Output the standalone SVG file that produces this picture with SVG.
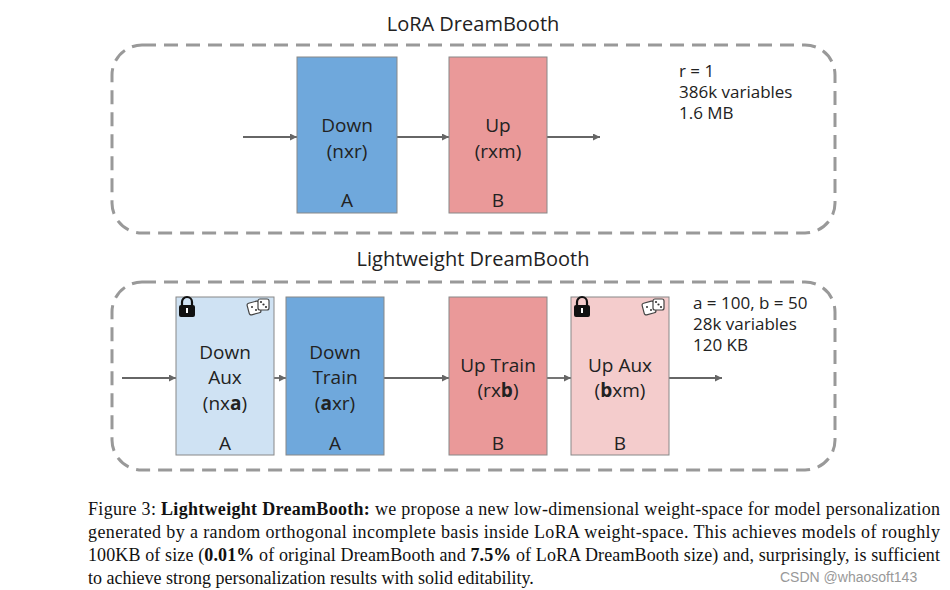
<svg xmlns="http://www.w3.org/2000/svg" width="950" height="590" viewBox="0 0 950 590">
<style>
.t{font-family:"Open Sans","Liberation Sans",sans-serif;font-size:19px;fill:#222;text-anchor:middle}
.s{font-family:"Open Sans","Liberation Sans",sans-serif;font-size:17px;fill:#222}
.h{font-family:"Open Sans","Liberation Sans",sans-serif;font-size:20px;fill:#222;text-anchor:middle}
.c{font-family:"Liberation Serif",serif;font-size:18px;fill:#111}
.dash{fill:none;stroke:#999;stroke-width:3;stroke-dasharray:14 8}
.b{stroke:#888;stroke-width:1}
.a{stroke:#666;stroke-width:1.8;fill:none;marker-end:url(#ar)}
</style>
<defs>
<marker id="ar" viewBox="0 0 10 10" refX="10" refY="5" markerWidth="7" markerHeight="7" markerUnits="userSpaceOnUse" orient="auto"><path d="M0,0L10,5L0,10z" fill="#666"/></marker>
<g id="lock"><path d="M3,9V6a5,5 0 0 1 10,0V9" fill="none" stroke="#111" stroke-width="2.2"/><rect x="0" y="9" width="16" height="12" rx="2" fill="#111"/><rect x="7" y="12" width="2" height="5" fill="#fff"/></g>
<g id="dice"><rect x="0" y="5" width="12" height="12" rx="2" fill="#fff" stroke="#444" stroke-width="1.2" transform="rotate(-15 6 11)"/><rect x="10" y="2" width="11" height="11" rx="2" fill="#fff" stroke="#444" stroke-width="1.2"/><circle cx="13" cy="5" r="1.1" fill="#333"/><circle cx="18" cy="10" r="1.1" fill="#333"/><circle cx="15.5" cy="7.5" r="1.1" fill="#333"/><circle cx="4" cy="10" r="1" fill="#333"/><circle cx="8" cy="13" r="1" fill="#333"/></g>
</defs>
<text class="h" x="473" y="31">LoRA DreamBooth</text>
<rect class="dash" x="112" y="45" width="723" height="188" rx="30"/>
<text class="h" x="473" y="266">Lightweight DreamBooth</text>
<rect class="dash" x="112" y="282" width="723" height="188" rx="30"/>
<g id="connectors">
<line class="a" x1="243" y1="137" x2="297" y2="137"/>
<line class="a" x1="397" y1="137" x2="449" y2="137"/>
<line class="a" x1="547" y1="137" x2="600" y2="137"/>
<line class="a" x1="122" y1="378" x2="176" y2="378"/>
<line class="a" x1="274" y1="378" x2="286" y2="378"/>
<line class="a" x1="384" y1="378" x2="449" y2="378"/>
<line class="a" x1="547" y1="378" x2="571" y2="378"/>
<line class="a" x1="669" y1="378" x2="722" y2="378"/>
</g>
<g id="down"><rect class="b" x="297" y="57" width="100" height="156" fill="#6fa8dc"/><text class="t" x="347" y="132">Down</text><text class="t" x="347" y="158">(nxr)</text><text class="t" x="347" y="207">A</text></g>
<g id="up"><rect class="b" x="449" y="57" width="98" height="156" fill="#ea9999"/><text class="t" x="498" y="132">Up</text><text class="t" x="498" y="158">(rxm)</text><text class="t" x="498" y="207">B</text></g>
<g id="info1"><text class="s" x="679" y="77">r = 1</text><text class="s" x="679" y="98">386k variables</text><text class="s" x="679" y="119">1.6 MB</text></g>
<g id="downaux"><rect class="b" x="176" y="297" width="98" height="158" fill="#cfe2f3"/><use href="#lock" x="179" y="296"/><use href="#dice" x="248" y="297"/><text class="t" x="225" y="359">Down</text><text class="t" x="225" y="384">Aux</text><text class="t" x="225" y="410">(nx<tspan font-weight="bold">a</tspan>)</text><text class="t" x="225" y="450">A</text></g>
<g id="downtrain"><rect class="b" x="286" y="297" width="98" height="158" fill="#6fa8dc"/><text class="t" x="335" y="359">Down</text><text class="t" x="335" y="384">Train</text><text class="t" x="335" y="410">(<tspan font-weight="bold">a</tspan>xr)</text><text class="t" x="335" y="450">A</text></g>
<g id="uptrain"><rect class="b" x="449" y="297" width="98" height="158" fill="#ea9999"/><text class="t" x="498" y="372">Up Train</text><text class="t" x="498" y="397">(rx<tspan font-weight="bold">b</tspan>)</text><text class="t" x="498" y="450">B</text></g>
<g id="upaux"><rect class="b" x="571" y="297" width="98" height="158" fill="#f4cccc"/><use href="#lock" x="574" y="296"/><use href="#dice" x="643" y="297"/><text class="t" x="620" y="372">Up Aux</text><text class="t" x="620" y="397">(<tspan font-weight="bold">b</tspan>xm)</text><text class="t" x="620" y="450">B</text></g>
<g id="info2"><text class="s" x="693" y="309">a = 100, b = 50</text><text class="s" x="693" y="330">28k variables</text><text class="s" x="693" y="351">120 KB</text></g>
<text class="c" x="88" y="515" textLength="852" lengthAdjust="spacing">Figure 3: <tspan font-weight="bold">Lightweight DreamBooth:</tspan> we propose a new low-dimensional weight-space for model personalization</text>
<text class="c" x="88" y="538" textLength="852" lengthAdjust="spacing">generated by a random orthogonal incomplete basis inside LoRA weight-space. This achieves models of roughly</text>
<text class="c" x="88" y="561" textLength="852" lengthAdjust="spacing">100KB of size (<tspan font-weight="bold">0.01%</tspan> of original DreamBooth and <tspan font-weight="bold">7.5%</tspan> of LoRA DreamBooth size) and, surprisingly, is sufficient</text>
<text class="c" x="88" y="584">to achieve strong personalization results with solid editability.</text>
<text x="780" y="582" font-family="Liberation Sans,sans-serif" font-size="14" fill="#999">CSDN @whaosoft143</text>
</svg>
